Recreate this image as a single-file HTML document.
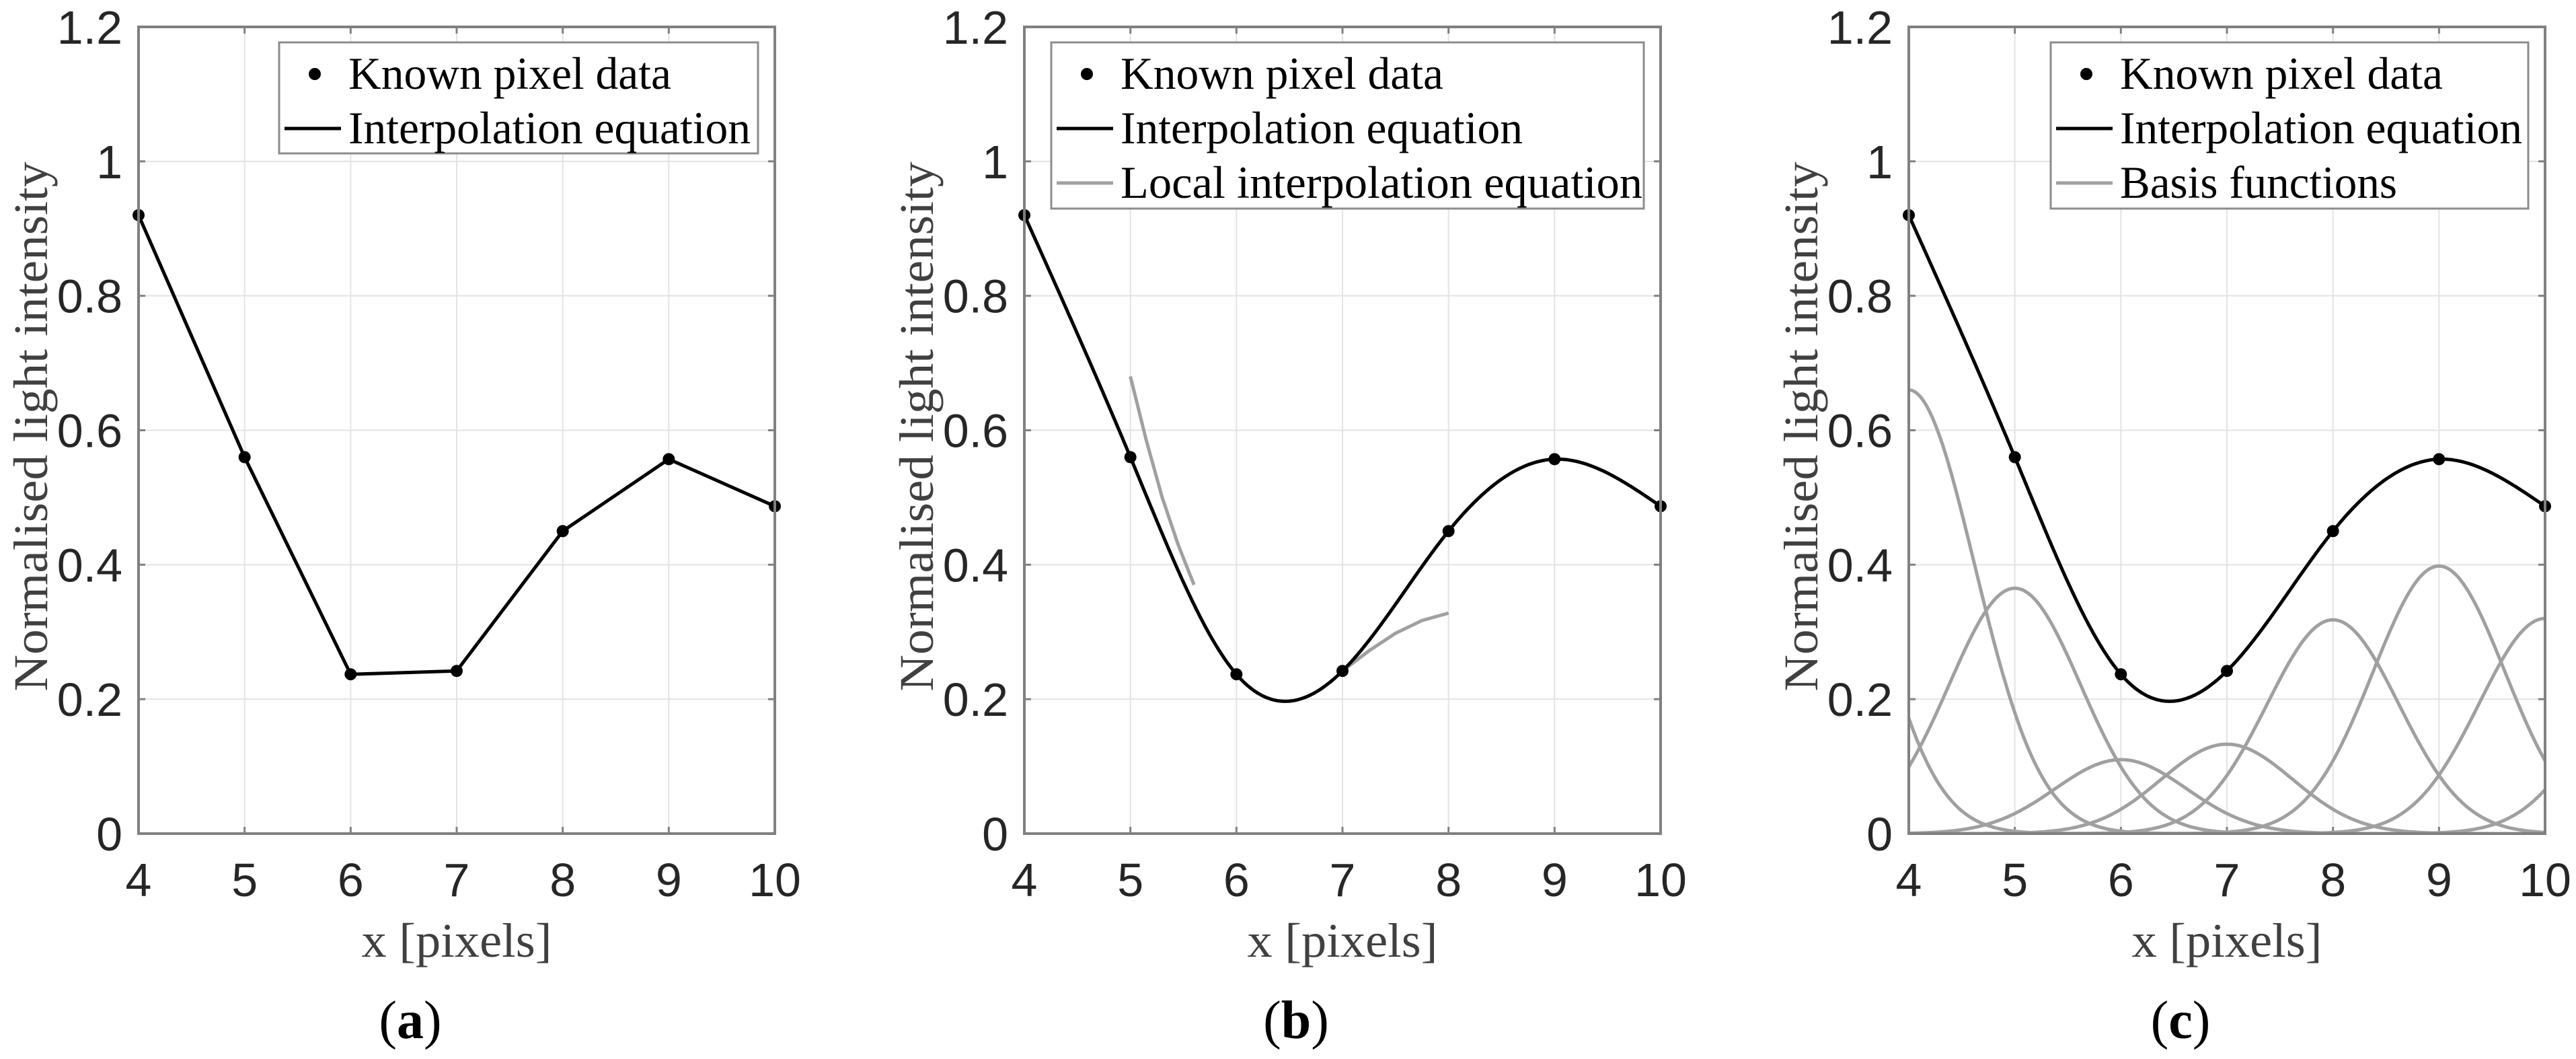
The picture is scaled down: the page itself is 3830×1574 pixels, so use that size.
<!DOCTYPE html>
<html><head><meta charset="utf-8"><style>
html,body{margin:0;padding:0;background:#fff;}
svg{display:block;}
</style></head><body>
<svg id="fig" xmlns="http://www.w3.org/2000/svg" width="3830" height="1574" viewBox="0 0 3830 1574"></svg>
<script>
// ---- data ----
const pixelX = [4, 5, 6, 7, 8, 9, 10];
const pixelY = [0.92, 0.56, 0.237, 0.242, 0.45, 0.557, 0.487];
const basisCenters = [3, 4, 5, 6, 7, 8, 9, 10, 11];
const basisWeights = [0.63, 0.66, 0.365, 0.11, 0.133, 0.318, 0.398, 0.32, 0.24];
const basisSigma = 0.62;
const localSeg1X = [5, 5.15, 5.3, 5.45, 5.6];
const localSeg1Y = [0.68, 0.585, 0.5, 0.43, 0.37];
const localSeg2X = [7, 7.25, 7.5, 7.75, 8];
const localSeg2Y = [0.242, 0.272, 0.298, 0.317, 0.328];
const xTicks = [4, 5, 6, 7, 8, 9, 10];
const xTickLabels = ['4', '5', '6', '7', '8', '9', '10'];
const yTicks = [0, 0.2, 0.4, 0.6, 0.8, 1, 1.2];
const yTickLabels = ['0', '0.2', '0.4', '0.6', '0.8', '1', '1.2'];

const NS = 'http://www.w3.org/2000/svg';
const svg = document.getElementById('fig');
function mk(tag, attrs, parent) {
  const e = document.createElementNS(NS, tag);
  for (const k in attrs) e.setAttribute(k, attrs[k]);
  (parent || svg).appendChild(e);
  return e;
}
const TOP = 40, BOT = 1239, W = 946;
function basisVal(i, x) {
  const d = x - basisCenters[i];
  return basisWeights[i] * Math.exp(-d * d / (2 * basisSigma * basisSigma));
}
// natural cubic spline through the known pixel data
function splineSecondDerivs(xs, ys) {
  const n = xs.length, M = new Array(n).fill(0);
  const a = [], b = [], c = [], r = [];
  for (let i = 1; i < n - 1; i++) {
    const h0 = xs[i] - xs[i - 1], h1 = xs[i + 1] - xs[i];
    a.push(h0); b.push(2 * (h0 + h1)); c.push(h1);
    r.push(6 * ((ys[i + 1] - ys[i]) / h1 - (ys[i] - ys[i - 1]) / h0));
  }
  const m = b.length;
  for (let i = 1; i < m; i++) { const w = a[i] / b[i - 1]; b[i] -= w * c[i - 1]; r[i] -= w * r[i - 1]; }
  const sol = new Array(m);
  sol[m - 1] = r[m - 1] / b[m - 1];
  for (let i = m - 2; i >= 0; i--) sol[i] = (r[i] - c[i] * sol[i + 1]) / b[i];
  for (let i = 0; i < m; i++) M[i + 1] = sol[i];
  return M;
}
const M2 = splineSecondDerivs(pixelX, pixelY);
function splineVal(x) {
  let i = 0;
  while (i < pixelX.length - 2 && x > pixelX[i + 1]) i++;
  const h = pixelX[i + 1] - pixelX[i], A = (pixelX[i + 1] - x) / h, B = (x - pixelX[i]) / h;
  return A * pixelY[i] + B * pixelY[i + 1] + ((A * A * A - A) * M2[i] + (B * B * B - B) * M2[i + 1]) * h * h / 6;
}

function panel(ox, key, letter, legendItems, legendLeft) {
  const g = mk('g', {});
  
  
  const sx = v => ox + (v - 4) / 6 * W;
  const sy = v => BOT - v / 1.2 * (BOT - TOP);
  const cp = mk('clipPath', { id: 'clip-' + key }, g);
  mk('rect', { x: ox, y: TOP, width: W, height: BOT - TOP }, cp);
  const grid = mk('g', { stroke: '#e3e3e3', 'stroke-width': 2 }, g);
  
  
  xTicks.forEach(t => { mk('line', { x1: sx(t), x2: sx(t), y1: TOP, y2: BOT }, grid); });
  yTicks.forEach(t => { mk('line', { x1: ox, x2: ox + W, y1: sy(t), y2: sy(t) }, grid); });
  const tk = mk('g', { stroke: '#808080', 'stroke-width': 3 }, g);
  xTicks.forEach(t => { mk('line', { x1: sx(t), x2: sx(t), y1: BOT, y2: BOT - 10 }, tk); mk('line', { x1: sx(t), x2: sx(t), y1: TOP, y2: TOP + 10 }, tk); });
  yTicks.forEach(t => { mk('line', { x1: ox, x2: ox + 10, y1: sy(t), y2: sy(t) }, tk); mk('line', { x1: ox + W, x2: ox + W - 10, y1: sy(t), y2: sy(t) }, tk); });
  xTicks.forEach((t, i) => {
    const e = mk('text', { x: sx(t), y: 1332, 'text-anchor': 'middle', 'font-family': 'Liberation Sans, sans-serif', 'font-size': 70, fill: '#262626' }, g);
    e.textContent = xTickLabels[i];
    
    
  });
  yTicks.forEach((t, i) => {
    const e = mk('text', { x: ox - 24, y: sy(t) + 25, 'text-anchor': 'end', 'font-family': 'Liberation Sans, sans-serif', 'font-size': 70, fill: '#262626' }, g);
    e.textContent = yTickLabels[i];
    
    
  });
  const xt = mk('text', { x: ox + W / 2, y: 1422, 'text-anchor': 'middle', 'font-family': 'Liberation Serif, serif', 'font-size': 72, fill: '#404040', textLength: 283, lengthAdjust: 'spacingAndGlyphs' }, g);
  xt.textContent = 'x [pixels]';
  
  
  const yx = ox - 158;
  const yt = mk('text', { x: yx + 22, y: 634, 'text-anchor': 'middle', 'font-family': 'Liberation Serif, serif', 'font-size': 72, fill: '#404040', textLength: 787, lengthAdjust: 'spacingAndGlyphs', transform: 'rotate(-90 ' + (yx + 22) + ' 634)' }, g);
  yt.textContent = 'Normalised light intensity';
  
  
  const pl = mk('text', { x: ox + 404, y: 1543, 'text-anchor': 'middle', 'font-family': 'Liberation Serif, serif', 'font-size': 80, fill: '#000' }, g);
  const t1 = mk('tspan', {}, pl); t1.textContent = '(';
  const t2 = mk('tspan', { 'font-weight': 'bold' }, pl); t2.textContent = letter;
  const t3 = mk('tspan', {}, pl); t3.textContent = ')';
  
  

  const plot = mk('g', { 'clip-path': 'url(#clip-' + key + ')' }, g);
  if (key === 'c') {
    for (let i = 0; i < basisCenters.length; i++) {
      let d = '';
      for (let x = 4; x <= 10.0001; x += 0.02) d += (d ? 'L' : 'M') + sx(x).toFixed(1) + ' ' + sy(basisVal(i, x)).toFixed(1);
      const p = mk('path', { d: d, fill: 'none', stroke: '#a0a0a0', 'stroke-width': 5 }, plot);
      
      
    }
  }
  if (key === 'b') {
    [[localSeg1X, localSeg1Y], [localSeg2X, localSeg2Y]].forEach((s, j) => {
      const d = s[0].map((x, i) => (i ? 'L' : 'M') + sx(x) + ' ' + sy(s[1][i])).join('');
      const p = mk('path', { d: d, fill: 'none', stroke: '#a0a0a0', 'stroke-width': 5, 'stroke-linejoin': 'round' }, plot);
      
      
    });
  }
  let d = '';
  if (key === 'a') {
    d = pixelX.map((x, i) => (i ? 'L' : 'M') + sx(x) + ' ' + sy(pixelY[i])).join('');
  } else {
    for (let x = 4; x <= 10.0001; x += 0.02) d += (d ? 'L' : 'M') + sx(x).toFixed(1) + ' ' + sy(splineVal(x)).toFixed(1);
  }
  const line = mk('path', { d: d, fill: 'none', stroke: '#000', 'stroke-width': 5, 'stroke-linejoin': 'round' }, plot);
  
  
  pixelX.forEach((x, i) => {
    const c = mk('circle', { cx: sx(x), cy: sy(pixelY[i]), r: 9, fill: '#000' }, g);
    
    
  });
  const box = mk('rect', { x: ox, y: TOP, width: W, height: BOT - TOP, fill: 'none', stroke: '#808080', 'stroke-width': 4 }, g);
  
  
  const lr = ox + W - 25;
  const lh = 165 + (legendItems.length - 2) * 82;
  const lg = mk('g', {}, g);
  
  
  mk('rect', { x: legendLeft, y: 63, width: lr - legendLeft, height: lh, fill: '#fff', stroke: '#8c8c8c', 'stroke-width': 3 }, lg);
  legendItems.forEach((it, i) => {
    const by = 132 + i * 81;
    const cy = by - 22;
    if (it.type === 'dot') mk('circle', { cx: legendLeft + 53, cy: cy, r: 9, fill: '#000' }, lg);
    else mk('line', { x1: legendLeft + 8, x2: legendLeft + 92, y1: cy, y2: cy, stroke: it.color, 'stroke-width': 5 }, lg);
    const t = mk('text', { x: legendLeft + 103, y: by, 'font-family': 'Liberation Serif, serif', 'font-size': 68, fill: '#000', textLength: it.w, lengthAdjust: 'spacingAndGlyphs' }, lg);
    t.textContent = it.label;
    
    
  });
}
const known = { type: 'dot', label: 'Known pixel data', w: 480 };
const interp = { type: 'line', color: '#000', label: 'Interpolation equation', w: 598 };
panel(206, 'a', 'a', [known, interp], 415);
panel(1523, 'b', 'b', [known, interp, { type: 'line', color: '#a0a0a0', label: 'Local interpolation equation', w: 776 }], 1563);
panel(2838, 'c', 'c', [known, interp, { type: 'line', color: '#a0a0a0', label: 'Basis functions', w: 412 }], 3049);
</script>
</body></html>
